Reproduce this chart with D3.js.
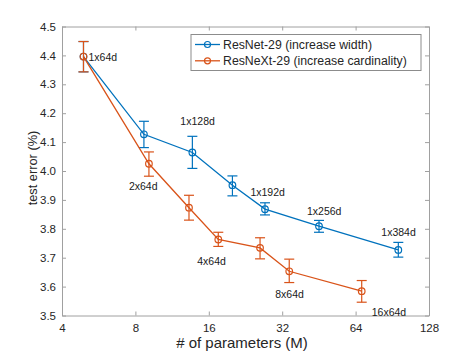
<!DOCTYPE html>
<html><head><meta charset="utf-8">
<script src="https://cdn.jsdelivr.net/npm/d3@7"></script>
<style>body{margin:0;background:#fff;} text{font-family:"Liberation Sans",Arial,Helvetica,sans-serif;}</style>
</head><body><svg id="c" width="474" height="355"></svg>
<script>
const seriesNames = ["ResNet-29 (increase width)", "ResNeXt-29 (increase cardinality)"];
const seriesColors = ["#0072BD", "#D95319"];
const widthParams = [4.9, 8.67, 13.7, 20.0, 27.2, 45.3, 95.8];
const widthErr = [4.396, 4.127, 4.064, 3.951, 3.868, 3.809, 3.727];
const widthLo = [4.343, 4.081, 4.009, 3.914, 3.848, 3.788, 3.702];
const widthHi = [4.448, 4.172, 4.120, 3.983, 3.890, 3.829, 3.753];
const widthLabels = ["1x64d", "", "1x128d", "1x192d", "", "1x256d", "1x384d"];
const cardParams = [4.9, 9.09, 13.27, 17.5, 25.96, 34.2, 67.8];
const cardErr = [4.396, 4.025, 3.873, 3.763, 3.734, 3.653, 3.584];
const cardLo = [4.343, 3.982, 3.830, 3.739, 3.696, 3.614, 3.546];
const cardHi = [4.448, 4.066, 3.916, 3.788, 3.769, 3.695, 3.621];
const cardLabels = ["", "2x64d", "", "4x64d", "", "8x64d", "16x64d"];
const xTicks = [4, 8, 16, 32, 64, 128];
const yTicks = [3.5, 3.6, 3.7, 3.8, 3.9, 4.0, 4.1, 4.2, 4.3, 4.4, 4.5];

const svg = d3.select("#c");
const L = 62, R = 429, T = 26.5, B = 315.5;
const x = d3.scaleLog().base(2).domain([4, 128]).range([L, R]);
const y = d3.scaleLinear().domain([3.5, 4.5]).range([B, T]);
const axisColor = "#a0a0a0", textColor = "#262626";

// axes
const gx = svg.append("g").attr("transform", `translate(0,${B})`)
  .call(d3.axisBottom(x).tickValues(xTicks).tickFormat(d3.format("d")).tickSizeInner(-4).tickSizeOuter(0).tickPadding(8));
const gxt = svg.append("g").attr("transform", `translate(0,${T})`)
  .call(d3.axisTop(x).tickValues(xTicks).tickFormat("").tickSizeInner(-4).tickSizeOuter(0));
const gy = svg.append("g").attr("transform", `translate(${L},0)`)
  .call(d3.axisLeft(y).tickValues(yTicks).tickFormat(d3.format(".1f")).tickSizeInner(-4).tickSizeOuter(0).tickPadding(6));
const gyr = svg.append("g").attr("transform", `translate(${R},0)`)
  .call(d3.axisRight(y).tickValues(yTicks).tickFormat("").tickSizeInner(-4).tickSizeOuter(0));
[gx, gxt, gy, gyr].forEach(g => {
  g.select(".domain").attr("stroke", axisColor).attr("stroke-width", 1);
  g.selectAll(".tick line").attr("stroke", axisColor);
  g.selectAll(".tick text").attr("fill", textColor).attr("font-size", 11.5)
   .attr("font-family", '"Liberation Sans",Arial,sans-serif');
});

svg.append("text").attr("x", 242).attr("y", 348).attr("text-anchor", "middle")
  .attr("font-size", 15).attr("fill", textColor).text("# of parameters (M)");
svg.append("text").attr("transform", `translate(37,168) rotate(-90)`)
  .attr("text-anchor", "middle").attr("font-size", 12.8).attr("fill", textColor).text("test error (%)");

const series = [
  {p: widthParams, e: widthErr, lo: widthLo, hi: widthHi, lab: widthLabels, c: seriesColors[0]},
  {p: cardParams, e: cardErr, lo: cardLo, hi: cardHi, lab: cardLabels, c: seriesColors[1]}
];
const line = d3.line().x(d => x(d[0])).y(d => y(d[1]));
series.forEach(s => {
  const pts = s.p.map((v, i) => [v, s.e[i], s.lo[i], s.hi[i]]);
  const g = svg.append("g");
  g.append("path").datum(pts).attr("d", line).attr("fill", "none").attr("stroke", s.c).attr("stroke-width", 1.3);
  pts.forEach(d => {
    const cx = x(d[0]);
    g.append("line").attr("x1", cx).attr("x2", cx).attr("y1", y(d[2])).attr("y2", y(d[3])).attr("stroke", s.c).attr("stroke-width", 1.2);
    [d[2], d[3]].forEach(v => g.append("line").attr("x1", cx - 5).attr("x2", cx + 5).attr("y1", y(v)).attr("y2", y(v)).attr("stroke", s.c).attr("stroke-width", 1.2));
    g.append("circle").attr("cx", cx).attr("cy", y(d[1])).attr("r", 3.3).attr("fill", "none").attr("stroke", s.c).attr("stroke-width", 1.2);
  });
});

// point labels (offsets in pixels)
const labOff = {
  "1x64d": [5, 1], "1x128d": [-12, -31], "1x192d": [18, 7], "1x256d": [-12, -15], "1x384d": [-17, -18],
  "2x64d": [-20, 23], "4x64d": [-21, 22], "8x64d": [-14, 23], "16x64d": [10, 21]
};
series.forEach(s => {
  s.lab.forEach((t, i) => {
    if (!t) return;
    const o = labOff[t];
    svg.append("text").attr("x", x(s.p[i]) + o[0]).attr("y", y(s.e[i]) + o[1]).attr("dy", "0.35em")
      .attr("font-size", 10.5).attr("fill", "#1a1a1a").text(t);
  });
});

// legend
const lg = svg.append("g");
lg.append("rect").attr("x", 191).attr("y", 34.5).attr("width", 230).attr("height", 36)
  .attr("fill", "#fff").attr("stroke", "#8c8c8c").attr("stroke-width", 1);
seriesNames.forEach((n, i) => {
  const yy = 44.5 + i * 16.3;
  lg.append("line").attr("x1", 195).attr("x2", 220).attr("y1", yy).attr("y2", yy).attr("stroke", seriesColors[i]).attr("stroke-width", 1.3);
  lg.append("circle").attr("cx", 207.5).attr("cy", yy).attr("r", 3).attr("fill", "none").attr("stroke", seriesColors[i]).attr("stroke-width", 1.2);
  lg.append("text").attr("x", 223).attr("y", yy).attr("dy", "0.35em").attr("font-size", 12.3).attr("fill", textColor).text(n);
});
</script></body></html>
